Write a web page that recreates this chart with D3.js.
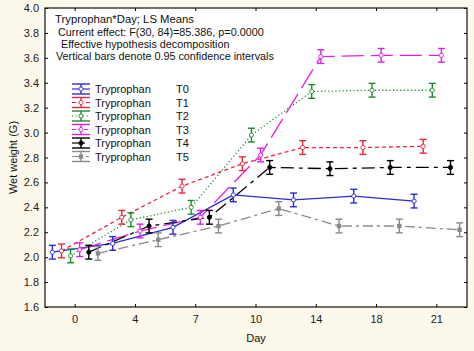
<!DOCTYPE html>
<html>
<head>
<meta charset="utf-8">
<script src="https://cdn.jsdelivr.net/npm/d3@7"></script>
<style>
  body { margin: 0; background: #fcf8ec; }
  svg { display: block; font-family: "Liberation Sans", Arial, sans-serif; }
</style>
</head>
<body>
<div class="canvas"></div>
<script>
// days on the x axis (categorical) and the six treatment groups
const days = ["0", "4", "7", "10", "14", "18", "21"];
const groups = ["T0", "T1", "T2", "T3", "T4", "T5"];

// LS means, one array per group
const t0 = [2.04, 2.11, 2.24, 2.50, 2.46, 2.49, 2.45];
const t1 = [2.05, 2.32, 2.57, 2.75, 2.88, 2.88, 2.89];
const t2 = [2.01, 2.30, 2.40, 2.98, 3.33, 3.34, 3.34];
const t3 = [2.06, 2.21, 2.32, 2.82, 3.61, 3.62, 3.62];
const t4 = [2.04, 2.25, 2.32, 2.72, 2.71, 2.72, 2.72];
const t5 = [2.03, 2.14, 2.25, 2.39, 2.25, 2.25, 2.22];
// half width of the 0.95 confidence bars
const ciHalf = [0.055, 0.055, 0.055, 0.055, 0.055, 0.055];

const yTicks = [1.6, 1.8, 2.0, 2.2, 2.4, 2.6, 2.8, 3.0, 3.2, 3.4, 3.6, 3.8, 4.0];

const infoLines = [
  "Tryprophan*Day; LS Means",
  "Current effect: F(30, 84)=85.386, p=0.0000",
  " Effective hypothesis decomposition",
  "Vertical bars denote 0.95 confidence intervals"
];

// look of each group: colour, dash, marker
const styles = [
  {color: "#2b2bd6", dash: null,          marker: "open"},
  {color: "#e8283a", dash: "4,3",         marker: "open"},
  {color: "#1f8a2a", dash: "1.2,2.4",     marker: "open"},
  {color: "#e020e0", dash: "22,7",        marker: "open"},
  {color: "#000000", dash: "13,5,4,5",    marker: "dot"},
  {color: "#8a8a8a", dash: "10,4,3,4",    marker: "square"}
];

const values = [t0, t1, t2, t3, t4, t5];

const svgWidth = 474, svgHeight = 351;
const margin = {top: 8, right: 7, bottom: 44, left: 45};
const w = svgWidth - margin.left - margin.right;
const h = svgHeight - margin.top - margin.bottom;

const svg = d3.select(".canvas").append("svg")
  .attr("width", svgWidth)
  .attr("height", svgHeight);

svg.append("rect").attr("width", svgWidth).attr("height", svgHeight).attr("fill", "#fcf8ec");

const g = svg.append("g").attr("transform", `translate(${margin.left},${margin.top})`);

g.append("rect").attr("width", w).attr("height", h).attr("fill", "#fff");

const x = d3.scaleBand().domain(days).range([0, w]);
const inner = d3.scalePoint().domain(groups).range([0, x.bandwidth()]).padding(0.81);
const y = d3.scaleLinear().domain([1.6, 4.0]).range([h, 0]);

// axes with inward ticks
const fmt = d3.format(".1f");
const yAxis = g.append("g").call(d3.axisLeft(y).tickValues(yTicks).tickFormat(fmt).tickSize(-3).tickPadding(6));
const yAxisR = g.append("g").attr("transform", `translate(${w},0)`)
  .call(d3.axisRight(y).tickValues(yTicks).tickFormat("").tickSize(-3));
const xAxis = g.append("g").attr("transform", `translate(0,${h})`)
  .call(d3.axisBottom(x).tickSize(-3).tickPadding(8));
const xAxisT = g.append("g").call(d3.axisTop(x).tickFormat("").tickSize(-3));

[yAxis, yAxisR, xAxis, xAxisT].forEach(a => {
  a.select(".domain").remove();
  a.selectAll("text").attr("fill", "#222").style("font-size", "11px");
});

g.append("rect").attr("width", w).attr("height", h)
  .attr("fill", "none").attr("stroke", "#111").attr("stroke-width", 1.2);

const px = (gi, di) => x(days[di]) + inner(groups[gi]);

// lines
const line = d3.line().x(d => d[0]).y(d => d[1]);
values.forEach((vals, gi) => {
  const pts = vals.map((v, di) => [px(gi, di), y(v)]);
  g.append("path")
    .attr("d", line(pts))
    .attr("fill", "none")
    .attr("stroke", styles[gi].color)
    .attr("stroke-width", 1.3)
    .attr("stroke-dasharray", styles[gi].dash);
});

function drawMarker(sel, cx, cy, st) {
  if (st.marker === "square") {
    sel.append("rect").attr("x", cx - 2.2).attr("y", cy - 2.2).attr("width", 4.4).attr("height", 4.4)
      .attr("fill", st.color);
  } else {
    sel.append("circle").attr("cx", cx).attr("cy", cy).attr("r", 2.1)
      .attr("fill", st.marker === "dot" ? st.color : "#fff")
      .attr("stroke", st.color).attr("stroke-width", 0.9);
  }
}

// error bars and markers
values.forEach((vals, gi) => {
  const st = styles[gi];
  const eg = g.append("g").attr("stroke", st.color).attr("stroke-width", 1.4);
  vals.forEach((v, di) => {
    const cx = px(gi, di);
    const y1 = y(v + ciHalf[gi]), y0 = y(v - ciHalf[gi]);
    eg.append("line").attr("x1", cx).attr("x2", cx).attr("y1", y1).attr("y2", y0);
    eg.append("line").attr("x1", cx - 3.5).attr("x2", cx + 3.5).attr("y1", y1).attr("y2", y1);
    eg.append("line").attr("x1", cx - 3.5).attr("x2", cx + 3.5).attr("y1", y0).attr("y2", y0);
    drawMarker(g, cx, y(v), st);
  });
});

// info text
const info = svg.append("g").attr("fill", "#111");
const infoPos = [[55, 23, 11.3], [58, 36, 10.8], [58, 48, 10.8], [56, 60, 10.8]];
infoLines.forEach((t, i) => {
  info.append("text").attr("x", infoPos[i][0]).attr("y", infoPos[i][1])
    .style("font-size", infoPos[i][2] + "px").attr("xml:space", "preserve").text(t);
});

// legend
const legend = svg.append("g").attr("transform", "translate(72,89)");
groups.forEach((name, gi) => {
  const st = styles[gi];
  const row = legend.append("g").attr("transform", `translate(0,${gi * 13.5})`);
  row.append("line").attr("x1", 0).attr("x2", 18).attr("y1", -5).attr("y2", -5).attr("stroke", st.color).attr("stroke-width", 1.4);
  row.append("line").attr("x1", 0).attr("x2", 18).attr("y1", 5).attr("y2", 5).attr("stroke", st.color).attr("stroke-width", 1.4);
  row.append("line").attr("x1", 9).attr("x2", 9).attr("y1", -5).attr("y2", 5).attr("stroke", st.color).attr("stroke-width", 1.4);
  row.append("line").attr("x1", 0).attr("x2", 18).attr("y1", 0).attr("y2", 0).attr("stroke", st.color)
    .attr("stroke-width", 1.2).attr("stroke-dasharray", gi === 3 ? "4,2" : st.dash);
  drawMarker(row, 9, 0, st);
  row.append("text").attr("x", 23).attr("y", 4).style("font-size", "11px").attr("fill", "#111").text("Tryprophan");
  row.append("text").attr("x", 104).attr("y", 4).style("font-size", "11px").attr("fill", "#111").text(name);
});

// axis titles
svg.append("text").attr("x", margin.left + w / 2).attr("y", 342).attr("text-anchor", "middle")
  .style("font-size", "11px").attr("fill", "#111").text("Day");
svg.append("text").attr("transform", `translate(17,${margin.top + h / 2}) rotate(-90)`)
  .attr("text-anchor", "middle").style("font-size", "11px").attr("fill", "#111").text("Wet weight (G)");
</script>
</body>
</html>
